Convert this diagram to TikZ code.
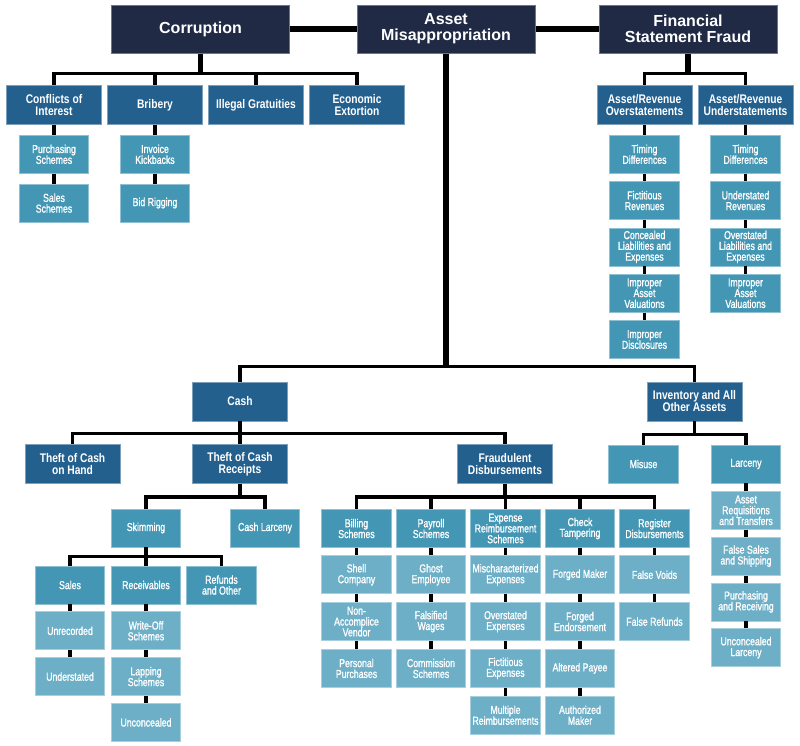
\documentclass[tikz,border=0pt]{standalone}
\usepackage{fontspec}
\setmainfont{Liberation Sans}
\newfontfamily\narrowfont{Liberation Sans}[FakeStretch=0.82]
\newfontfamily\slimfont{Liberation Sans}[FakeStretch=0.76, FakeBold=1.2]
\usepackage{tikz}
\usetikzlibrary{positioning}
\definecolor{navy}{HTML}{202A45}
\definecolor{steel}{HTML}{24608E}
\definecolor{lagoon}{HTML}{4497B4}
\definecolor{mist}{HTML}{6DAFC7}

\begin{document}
\begin{tikzpicture}[
  x=1pt, y=-1pt,
  box/.style={rectangle, inner sep=0pt, align=center, text=white},
  mainbox/.style={box, fill=navy, draw=navy!65!white, line width=1pt,
                  minimum width=178pt, minimum height=48pt,
                  font=\bfseries\fontsize{16}{16}\selectfont},
  catbox/.style={box, fill=steel, draw=steel!60!white, line width=0.8pt,
                 minimum width=95pt, minimum height=39pt,
                 font=\narrowfont\bfseries\fontsize{12.5}{12}\selectfont},
  subbox/.style={box, fill=lagoon, draw=lagoon!60!white, line width=0.8pt,
                 minimum width=69.5pt, minimum height=38pt,
                 font=\slimfont\fontsize{11.5}{10.8}\selectfont},
  leafbox/.style={subbox, fill=mist, draw=mist!60!white},
  link/.style={line width=3.8pt},
  trunk/.style={line width=5.5pt},
]
  \fill[white] (0,0) rectangle (800,745);
  \useasboundingbox (0,0) rectangle (800,745);

  \node[mainbox] (corr) at (200.5,29) {Corruption};
  \node[mainbox] (am) at (446,29) {Asset\\Misappropriation};
  \node[mainbox] (fsf) at (688,29) {Financial\\Statement Fraud};

  \node[catbox] (coi) at (54,105) {Conflicts of\\Interest};
  \node[catbox] (brib) at (155,105) {Bribery};
  \node[catbox] (grat) at (256,105) {Illegal Gratuities};
  \node[catbox] (extort) at (357,105) {Economic\\Extortion};
  \node[subbox, below=10pt of coi] (purch) {Purchasing\\Schemes};
  \node[subbox, below=10pt of purch] (salesch) {Sales\\Schemes};
  \node[subbox, below=10pt of brib] (kick) {Invoice\\Kickbacks};
  \node[subbox, below=10pt of kick] (bidrig) {Bid Rigging};

  \node[catbox] (over) at (644.5,105) {Asset/Revenue\\Overstatements};
  \node[catbox] (under) at (745.5,105) {Asset/Revenue\\Understatements};
  \node[subbox, below=10pt of over] (otiming) {Timing\\Differences};
  \node[subbox, below=7.5pt of otiming] (ofict) {Fictitious\\Revenues};
  \node[subbox, below=7.5pt of ofict] (oconc) {Concealed\\Liabilities and\\Expenses};
  \node[subbox, below=7.5pt of oconc] (oimpv) {Improper\\Asset\\Valuations};
  \node[subbox, below=7.5pt of oimpv] (odiscl) {Improper\\Disclosures};
  \node[subbox, below=10pt of under] (utiming) {Timing\\Differences};
  \node[subbox, below=7.5pt of utiming] (urev) {Understated\\Revenues};
  \node[subbox, below=7.5pt of urev] (uliab) {Overstated\\Liabilities and\\Expenses};
  \node[subbox, below=7.5pt of uliab] (uimpv) {Improper\\Asset\\Valuations};

  \node[catbox] (cash) at (240,401.5) {Cash};
  \node[catbox] (inv) at (694.5,401.5) {Inventory and All\\Other Assets};

  \node[catbox] (toh) at (72.5,464) {Theft of Cash\\on Hand};
  \node[catbox] (tor) at (240,464) {Theft of Cash\\Receipts};
  \node[catbox] (fd) at (505,464) {Fraudulent\\Disbursements};

  \node[subbox] (skim) at (146,528) {Skimming};
  \node[subbox] (clar) at (265,528) {Cash Larceny};
  \node[subbox] (sales) at (70,585) {Sales};
  \node[subbox] (recv) at (146,585) {Receivables};
  \node[subbox] (refund) at (221.5,585) {Refunds\\and Other};
  \node[leafbox, below=7pt of sales] (unrec) {Unrecorded};
  \node[leafbox, below=7pt of unrec] (undst) {Understated};
  \node[leafbox, below=7pt of recv] (woff) {Write-Off\\Schemes};
  \node[leafbox, below=7pt of woff] (lapp) {Lapping\\Schemes};
  \node[leafbox, below=7pt of lapp] (uncon) {Unconcealed};

  \node[subbox] (bill) at (356.5,528.5) {Billing\\Schemes};
  \node[subbox] (pay) at (431,528.5) {Payroll\\Schemes};
  \node[subbox] (exp) at (505.5,528.5) {Expense\\Reimbursement\\Schemes};
  \node[subbox] (chk) at (580,528.5) {Check\\Tampering};
  \node[subbox] (reg) at (654.5,528.5) {Register\\Disbursements};
  \node[leafbox, below=7.5pt of bill] (shell) {Shell\\Company};
  \node[leafbox, below=8pt of shell] (nonacc) {Non-\\Accomplice\\Vendor};
  \node[leafbox, below=8pt of nonacc] (pers) {Personal\\Purchases};
  \node[leafbox, below=7.5pt of pay] (ghost) {Ghost\\Employee};
  \node[leafbox, below=8pt of ghost] (falsw) {Falsified\\Wages};
  \node[leafbox, below=8pt of falsw] (comm) {Commission\\Schemes};
  \node[leafbox, below=7.5pt of exp] (misch) {Mischaracterized\\Expenses};
  \node[leafbox, below=8pt of misch] (overx) {Overstated\\Expenses};
  \node[leafbox, below=8pt of overx] (fictx) {Fictitious\\Expenses};
  \node[leafbox, below=8pt of fictx] (multi) {Multiple\\Reimbursements};
  \node[leafbox, below=7.5pt of chk] (fmaker) {Forged Maker};
  \node[leafbox, below=8pt of fmaker] (fendo) {Forged\\Endorsement};
  \node[leafbox, below=8pt of fendo] (altp) {Altered Payee};
  \node[leafbox, below=8pt of altp] (authm) {Authorized\\Maker};
  \node[leafbox, below=7.5pt of reg] (fvoid) {False Voids};
  \node[leafbox, below=8pt of fvoid] (frefund) {False Refunds};

  \node[subbox] (misuse) at (643.5,464) {Misuse};
  \node[subbox] (larc) at (746,464) {Larceny};
  \node[leafbox, below=7.5pt of larc] (areq) {Asset\\Requisitions\\and Transfers};
  \node[leafbox, below=7pt of areq] (fsales) {False Sales\\and Shipping};
  \node[leafbox, below=7pt of fsales] (purrec) {Purchasing\\and Receiving};
  \node[leafbox, below=7pt of purrec] (unlarc) {Unconcealed\\Larceny};

  \draw[trunk] (corr) -- (am);
  \draw[trunk] (am) -- (fsf);

  \path (corr.south) ++(0,20) coordinate (cbus);
  \draw[trunk] (corr) -- (cbus);
  \draw[link] (cbus) -| (coi);
  \draw[link] (cbus) -| (brib);
  \draw[link] (cbus) -| (grat);
  \draw[link] (cbus) -| (extort);
  \draw[link] (coi) -- (purch);
  \draw[link] (purch) -- (salesch);
  \draw[link] (brib) -- (kick);
  \draw[link] (kick) -- (bidrig);

  \path (fsf.south) ++(0,20) coordinate (fbus);
  \draw[trunk] (fsf) -- (fbus);
  \draw[link] (fbus) -| (over);
  \draw[link] (fbus) -| (under);
  \draw[link] (over) -- (otiming);
  \draw[link] (otiming) -- (ofict);
  \draw[link] (ofict) -- (oconc);
  \draw[link] (oconc) -- (oimpv);
  \draw[link] (oimpv) -- (odiscl);
  \draw[link] (under) -- (utiming);
  \draw[link] (utiming) -- (urev);
  \draw[link] (urev) -- (uliab);
  \draw[link] (uliab) -- (uimpv);

  \path (am.south) ++(0,313) coordinate (abus);
  \draw[trunk] (am) -- (abus);
  \draw[link] (abus) -| (cash);
  \draw[link] (abus) -| (inv);

  \path (cash.south) ++(0,12) coordinate (cashbus);
  \draw[link] (cash) -- (tor);
  \draw[link] (cashbus) -| (toh);
  \draw[link] (cashbus) -| (fd);

  \path (tor.south) ++(0,13) coordinate (tbus);
  \draw[link] (tor) -- (tbus);
  \draw[link] (tbus) -| (skim);
  \draw[link] (tbus) -| (clar);

  \path (skim.south) ++(0,9) coordinate (sbus);
  \draw[link] (skim) -- (recv);
  \draw[link] (sbus) -| (sales);
  \draw[link] (sbus) -| (refund);
  \draw[link] (sales) -- (unrec);
  \draw[link] (unrec) -- (undst);
  \draw[link] (recv) -- (woff);
  \draw[link] (woff) -- (lapp);
  \draw[link] (lapp) -- (uncon);

  \path (fd.south) ++(0,13) coordinate (dbus);
  \draw[link] (fd) -- (dbus);
  \draw[link] (dbus) -| (bill);
  \draw[link] (dbus) -| (pay);
  \draw[link] (dbus) -| (exp);
  \draw[link] (dbus) -| (chk);
  \draw[link] (dbus) -| (reg);
  \draw[link] (bill) -- (shell);
  \draw[link] (shell) -- (nonacc);
  \draw[link] (nonacc) -- (pers);
  \draw[link] (pay) -- (ghost);
  \draw[link] (ghost) -- (falsw);
  \draw[link] (falsw) -- (comm);
  \draw[link] (exp) -- (misch);
  \draw[link] (misch) -- (overx);
  \draw[link] (overx) -- (fictx);
  \draw[link] (fictx) -- (multi);
  \draw[link] (chk) -- (fmaker);
  \draw[link] (fmaker) -- (fendo);
  \draw[link] (fendo) -- (altp);
  \draw[link] (altp) -- (authm);
  \draw[link] (reg) -- (fvoid);
  \draw[link] (fvoid) -- (frefund);

  \path (inv.south) ++(0,13) coordinate (ibus);
  \draw[link] (inv) -- (ibus);
  \draw[link] (ibus) -| (misuse);
  \draw[link] (ibus) -| (larc);
  \draw[link] (larc) -- (areq);
  \draw[link] (areq) -- (fsales);
  \draw[link] (fsales) -- (purrec);
  \draw[link] (purrec) -- (unlarc);
\end{tikzpicture}
\end{document}
